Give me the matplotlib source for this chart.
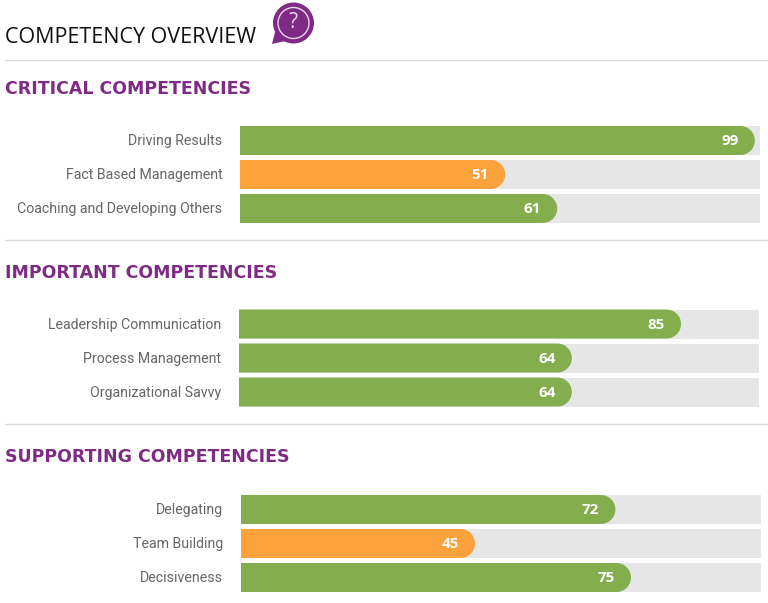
import matplotlib
matplotlib.use("Agg")
import matplotlib.pyplot as plt
import numpy as np
from matplotlib.patches import Circle, Polygon
from matplotlib.transforms import ScaledTranslation

W, H = 768, 603
GREEN = "#84ae4e"
ORANGE = "#fba23c"
TRACK = "#e6e6e6"
PURPLE = "#7f2a85"

title = "COMPETENCY OVERVIEW"
headings = ["CRITICAL COMPETENCIES", "IMPORTANT COMPETENCIES", "SUPPORTING COMPETENCIES"]

critical_labels = ["Driving Results", "Fact Based Management", "Coaching and Developing Others"]
critical_values = [99, 51, 61]
important_labels = ["Leadership Communication", "Process Management", "Organizational Savvy"]
important_values = [85, 64, 64]
supporting_labels = ["Delegating", "Team Building", "Decisiveness"]
supporting_values = [72, 45, 75]

groups = [
    (critical_labels, critical_values, 240, 123.5),
    (important_labels, important_values, 239, 307),
    (supporting_labels, supporting_values, 241, 492.5),
]
heading_y = [89, 273, 457]
rule_y = [60, 240, 424]

PX_PER_UNIT = 5.2
ROW_PX = 34
BAR_PX = 29

fig = plt.figure(figsize=(W / 100, H / 100), dpi=100, facecolor="white")

# page furniture in pixel coordinates
bg = fig.add_axes([0, 0, 1, 1])
bg.set_xlim(0, W)
bg.set_ylim(H, 0)
bg.axis("off")

bg.text(5, 37.5, title, family="Open Sans", fontsize=15.5, color="#111111", va="center", ha="left")
for y in rule_y:
    bg.plot([5, W], [y, y], color="#dcdcdc", lw=1)
for y, h in zip(heading_y, headings):
    bg.text(5, y, h, family="DejaVu Sans", weight="bold", fontsize=12.55, color=PURPLE, va="center", ha="left")

# speech bubble icon
bg.add_patch(Polygon([[272, 44], [276, 28], [290, 40]], color=PURPLE, lw=0))
bg.add_patch(Circle((293.5, 23), 20.5, color=PURPLE, lw=0))
bg.add_patch(Circle((293.5, 23), 15.5, fill=False, ec="#e6d5e7", lw=1))
bg.text(293.5, 23, "?", family="Open Sans", fontsize=15, color="#ecdfed", ha="center", va="center")


def color_for(value):
    return ORANGE if value < 60 else GREEN


def rounded_bar(row, value, bar_h, rx):
    # one outline for bar and cap, so no seam shows between them
    t = np.linspace(-np.pi / 2, np.pi / 2, 40)
    xs = np.r_[0, value - rx + rx * np.cos(t), 0]
    ys = np.r_[row - bar_h / 2, row + bar_h / 2 * np.sin(t), row + bar_h / 2]
    return Polygon(np.column_stack([xs, ys]), color=color_for(value), lw=0, snap=False)


for labels, values, left, top in groups:
    ax = fig.add_axes([left / W, 1 - (top + ROW_PX * 3) / H, 520 / W, ROW_PX * 3 / H])
    ax.patch.set_alpha(0)
    rows = list(range(len(labels)))
    bar_h = BAR_PX / ROW_PX
    rx = BAR_PX / 2 / PX_PER_UNIT
    ax.barh(rows, [100] * len(rows), height=bar_h, color=TRACK, lw=0)
    for row, value in zip(rows, values):
        ax.add_patch(rounded_bar(row, value, bar_h, rx))
        ax.text(value - 4.8, row + 0.025, str(value), family="Open Sans", weight="bold", fontsize=11,
                color="white", ha="center", va="center")
    ax.set_xlim(0, 100)
    ax.set_ylim(len(rows) - 0.5, -0.5)
    ax.set_xticks([])
    ax.set_yticks(rows, labels)
    ax.tick_params(axis="y", length=0, pad=12.7)
    for t in ax.get_yticklabels():
        t.set_family("Roboto")
        t.set_fontsize(10.2)
        t.set_color("#666666")
        t.set_transform(t.get_transform() + ScaledTranslation(0, 0.5 / 72, fig.dpi_scale_trans))
    for s in ax.spines.values():
        s.set_visible(False)

fig.savefig("out.png", dpi=100)
